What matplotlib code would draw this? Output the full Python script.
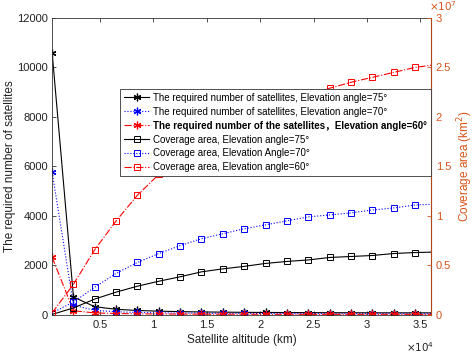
import numpy as np
import matplotlib
matplotlib.use('Agg')
import matplotlib.pyplot as plt

plt.rcParams['font.family'] = ['Liberation Sans', 'Noto Sans CJK SC', 'DejaVu Sans']

# Altitudes (km)
altitude = [500, 2500, 4500, 6500, 8500, 10500, 12500, 14500, 16500, 18500,
            20500, 22500, 24500, 26500, 28500, 30500, 32500, 34500, 36500]

# Required number of satellites
sat_75 = [10600, 720, 330, 225, 178, 150, 131, 119, 110, 103,
          98, 94, 91, 88, 86, 84, 83, 82, 81]
sat_70 = [5770, 390, 185, 125, 98, 83, 74, 67, 62, 58,
          55, 53, 51, 50, 49, 48, 47, 46, 46]
sat_60 = [2330, 165, 80, 55, 43, 36, 32, 29, 27, 25,
          24, 23, 22.5, 22, 21.5, 21, 21, 20.5, 20]

# Coverage area (x 1e7 km^2)
area_75 = [0.005, 0.07, 0.16, 0.23, 0.29, 0.34, 0.385, 0.435, 0.465, 0.49,
           0.52, 0.54, 0.555, 0.58, 0.59, 0.60, 0.62, 0.63, 0.635]
area_70 = [0.02, 0.13, 0.28, 0.42, 0.53, 0.62, 0.70, 0.77, 0.82, 0.87,
           0.91, 0.95, 0.99, 1.01, 1.03, 1.06, 1.08, 1.11, 1.12]
area_60 = [0.02, 0.31, 0.66, 0.95, 1.21, 1.42, 1.58, 1.73, 1.86, 1.96,
           2.06, 2.14, 2.22, 2.29, 2.35, 2.40, 2.45, 2.50, 2.53]

labels = ['The required number of satellites, Elevation angle=75°',
          'The required number of satellites, Elevation angle=70°',
          'The required number of the satellites，Elevation angle=60°',
          'Coverage area, Elevation angle=75°',
          'Coverage area, Elevation Angle=70°',
          'Coverage area, Elevation angle=60°']

orange = '#D95319'
x = np.array(altitude)

fig = plt.figure(figsize=(4.74, 3.53), dpi=100)
ax = fig.add_axes([0.110, 0.108, 0.799, 0.841])
ax2 = ax.twinx()

ms = 4.5
lw = 0.8
star = (6, 2, 0)  # asterisk like MATLAB '*'
h1, = ax.plot(x, sat_75, '-', color='k', marker=star, ms=ms + 1, mew=0.9, lw=lw)
h2, = ax.plot(x, sat_70, ':', color='b', marker=star, ms=ms + 1, mew=0.9, lw=lw)
h3, = ax.plot(x, sat_60, '-.', color='r', marker=star, ms=ms + 1, mew=0.9, lw=lw)
h4, = ax2.plot(x, np.array(area_75) * 1e7, '-', color='k', marker='s', ms=ms, mfc='none', lw=lw, mew=0.7)
h5, = ax2.plot(x, np.array(area_70) * 1e7, ':', color='b', marker='s', ms=ms, mfc='none', lw=lw, mew=0.7)
h6, = ax2.plot(x, np.array(area_60) * 1e7, '-.', color='r', marker='s', ms=ms, mfc='none', lw=lw, mew=0.7)

ax.set_xlim(500, 36000)
ax.set_ylim(0, 12000)
ax2.set_ylim(0, 3e7)

xt = [5000, 10000, 15000, 20000, 25000, 30000, 35000]
ax.set_xticks(xt)
ax.set_xticklabels(['0.5', '1', '1.5', '2', '2.5', '3', '3.5'])
ax.set_yticks(range(0, 12001, 2000))
yt2 = [0, 0.5e7, 1e7, 1.5e7, 2e7, 2.5e7, 3e7]
ax2.set_yticks(yt2)
ax2.set_yticklabels(['0', '0.5', '1', '1.5', '2', '2.5', '3'])

ax.tick_params(axis='both', direction='in', labelsize=8, top=True, length=3, width=0.6, color='#333333', labelcolor='#222222')
ax.tick_params(axis='y', right=False, pad=3)
ax2.tick_params(axis='y', direction='in', labelsize=8, colors=orange, length=3, width=0.6)

for s in ['left', 'top', 'bottom']:
    ax.spines[s].set_linewidth(0.6)
    ax.spines[s].set_color('#333333')
ax2.spines['right'].set_color(orange)
ax2.spines['right'].set_linewidth(0.6)
ax2.spines['left'].set_visible(False)
ax2.spines['top'].set_visible(False)
ax2.spines['bottom'].set_visible(False)

ax.set_xlabel('Satellite altitude (km)', fontsize=8.5, color='#222222', labelpad=3)
ax.set_ylabel('The required number of satellites', fontsize=8.5, color='#222222', labelpad=1)
ax2.set_ylabel('Coverage area (km$^2$)', fontsize=8.5, color=orange, labelpad=3)

fig.text(0.857, 0.018, r'$\times10^4$', fontsize=7.5, color='#222222', ha='left', va='center')
fig.text(0.905, 0.982, r'$\times10^7$', fontsize=7.5, color=orange, ha='left', va='center')

leg = ax2.legend([h1, h2, h3, h4, h5, h6], labels, loc='upper right',
                 bbox_to_anchor=(0.909, 0.748), bbox_transform=fig.transFigure,
                 fontsize=7, frameon=True, fancybox=False, framealpha=1,
                 edgecolor='#333333', handlelength=2.6, handletextpad=0.4,
                 labelspacing=0.4, borderpad=0.4, borderaxespad=0)
leg.get_frame().set_linewidth(0.6)
leg.get_texts()[2].set_fontweight('bold')

fig.savefig('out.png', dpi=100)
